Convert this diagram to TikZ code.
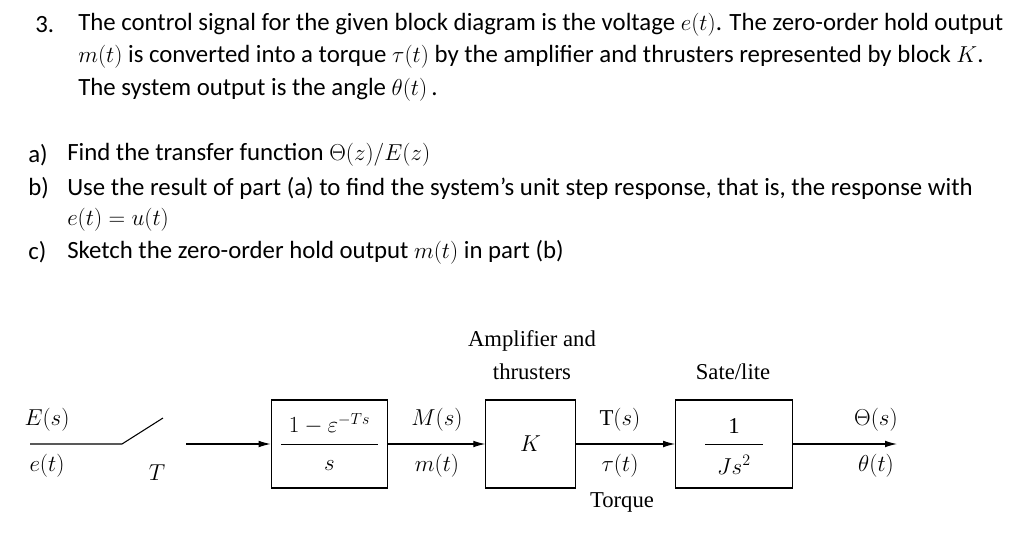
\documentclass[tikz,border=0pt]{standalone}
\usepackage{fontspec}
\setmainfont{Liberation Serif}
\newfontfamily\calibrifont{Carlito}
\usetikzlibrary{arrows.meta}
\begin{document}
\begin{tikzpicture}[x=0.75pt,y=-0.75pt,
  qt/.style={font=\calibrifont\fontsize{18.6}{21}\selectfont,anchor=west,inner sep=0},
  dl/.style={font=\fontsize{17}{19}\selectfont,inner sep=0},
  blk/.style={draw,line width=0.8pt,minimum width=87.5pt,minimum height=66pt,inner sep=0},
  sig/.style={line width=0.8pt,-{Latex[length=9pt,width=5pt]}}]
\useasboundingbox (0,0) rectangle (1024,532);
\node[qt] (n3) at (35,25) {3.};
\node[qt] (l1) at (78,25) {The control signal for the given block diagram is the voltage $e(t)$. The zero-order hold output};
\node[qt] (l2) at (78,57) {$m(t)$ is converted into a torque $\tau(t)$ by the amplifier and thrusters represented by block $K$.};
\node[qt] (l3) at (78,90) {The system output is the angle $\theta(t)$\,.};
\node[qt] (pa) at (28,155) {a)};
\node[qt] (ta) at (67,155) {Find the transfer function $\Theta(z)/E(z)$};
\node[qt] (pb) at (28,188) {b)};
\node[qt] (tb) at (67,188) {Use the result of part (a) to find the system’s unit step response, that is, the response with};
\node[qt] (tb2) at (67,220) {$e(t)=u(t)$};
\node[qt] (pc) at (28,252) {c)};
\node[qt] (tc) at (67,252) {Sketch the zero-order hold output $m(t)$ in part (b)};
% diagram
\coordinate (in) at (30,444);
\coordinate (sw) at (122,444);
\coordinate (swt) at (163,418);
\coordinate (sa) at (186,444);
\coordinate (out) at (897,444);
\node[blk] (zoh) at (329.5,444) {};
\node[dl] (zn) at (329.5,424) {$1-\varepsilon^{-Ts}$};
\draw[line width=0.7pt] (281,444) -- (378,444);
\node[dl] (zd) at (329.5,466) {$s$};
\node[blk,minimum width=67pt] (K) at (530.5,444) {\fontsize{17}{19}\selectfont$K$};
\node[blk] (sat) at (734,444) {};
\node[dl] (sn) at (734,426) {1};
\draw[line width=0.7pt] (705,444) -- (763,444);
\node[dl] (sd) at (734,465) {$Js^2$};
\draw[line width=0.8pt] (in) -- (sw) -- (swt);
\draw[sig] (sa) -- (zoh);
\draw[sig] (zoh) -- (K);
\draw[sig] (K) -- (sat);
\draw[sig] (sat) -- (out);
\node[dl] (Es) at (47,420) {$E(s)$};
\node[dl] (et) at (47,466) {$e(t)$};
\node[dl] (T) at (157,473) {$T$};
\node[dl] (Ms) at (437,420) {$M(s)$};
\node[dl] (mt) at (437,466) {$m(t)$};
\node[dl] (Ts) at (620,420) {T$(s)$};
\node[dl] (tt) at (620,466) {$\tau(t)$};
\node[dl] (tq) at (622,502) {Torque};
\node[dl] (am) at (532,341) {Amplifier and};
\node[dl] (th) at (532,372) {thrusters};
\node[dl] (sl) at (733,372) {Sate/lite};
\node[dl] (Os) at (876,420) {$\Theta(s)$};
\node[dl] (ot) at (876,466) {$\theta(t)$};
\end{tikzpicture}
\end{document}
